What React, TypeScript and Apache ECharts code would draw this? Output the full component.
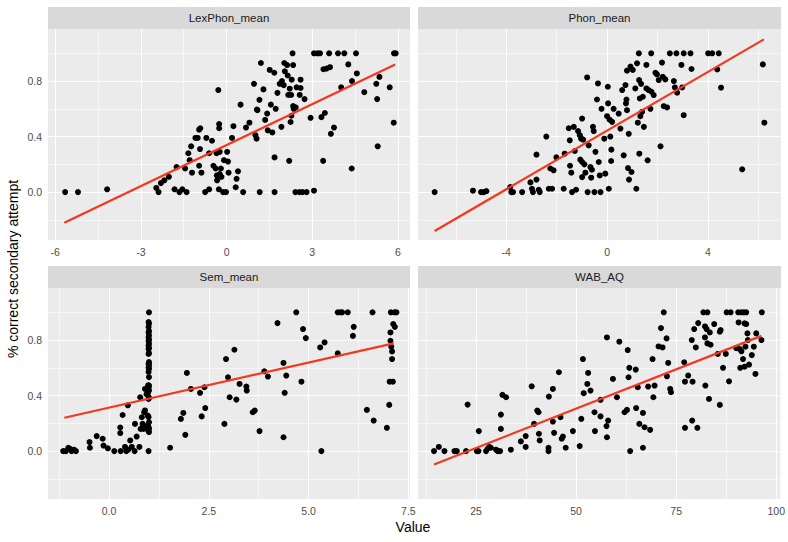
import { useEffect, useRef } from 'react';
import * as echarts from 'echarts';

// facet names, in panel order (top-left, top-right, bottom-left, bottom-right)
const panelNames = ['LexPhon_mean', 'Phon_mean', 'Sem_mean', 'WAB_AQ'];

const lexPhonPoints = [
  [-5.65, 0], [-5.2, 0], [-4.18, 0.02], [-2.46, 0.03], [-2.38, 0], [-2.3, 0.065], [-2.18, 0.085],
  [-2.02, 0.11], [-1.82, 0.02], [-1.75, 0.18], [-1.65, 0], [-1.55, 0.02], [-1.45, 0.17], [-1.4, 0],
  [-1.34, 0.28], [-1.29, 0.23], [-1.24, 0.33], [-1.21, 0.14], [-1.09, 0.39], [-1.01, 0.39],
  [-0.96, 0.45], [-0.92, 0.46], [-0.96, 0.19], [-0.93, 0.31], [-0.88, 0.14], [-0.75, 0],
  [-0.71, 0.39], [-0.61, 0.02], [-0.61, 0.28], [-0.51, 0.37], [-0.46, 0.19], [-0.38, 0.17],
  [-0.35, 0.28], [-0.34, 0.12], [-0.33, 0.085], [-0.29, 0.735], [-0.26, 0.49], [-0.26, 0.46],
  [-0.24, 0.29], [-0.24, 0.13], [-0.27, 0.02], [-0.2, 0.17], [-0.18, 0.11], [-0.12, 0],
  [-0.09, 0.23], [-0.02, 0], [0.02, 0.29], [0.05, 0.22], [0.07, 0.14], [0.19, 0.39], [0.24, 0.475],
  [0.32, 0.035], [0.35, 0.096], [0.4, 0.15], [0.49, 0.63], [0.58, 0], [0.68, 0.465], [0.8, 0.5],
  [0.96, 0.78], [1.01, 0.41], [1.05, 0.385], [1.06, 0.595], [1.08, 0.59], [1.15, 0.665], [1.16, 0],
  [1.2, 0.93], [1.29, 0.74], [1.35, 0.52], [1.42, 0.566], [1.44, 0.445], [1.51, 0.88], [1.55, 0.63],
  [1.6, 0.43], [1.67, 0.86], [1.68, 0.25], [1.68, 0], [1.72, 0.6], [1.78, 0.715], [1.86, 0.78],
  [1.92, 0.47], [1.94, 0.8], [2.0, 0.77], [2.02, 0.93], [2.04, 0.87], [2.12, 0.915], [2.14, 0.84],
  [2.16, 0.7], [2.19, 0.225], [2.21, 0.745], [2.24, 0.505], [2.26, 0.7], [2.27, 0.55], [2.28, 0.81],
  [2.31, 1.0], [2.33, 0.915], [2.33, 0.62], [2.35, 0.6], [2.41, 0], [2.42, 0.61], [2.45, 0.755],
  [2.55, 0], [2.56, 0.7], [2.59, 0.81], [2.59, 0.75], [2.66, 0], [2.73, 0.67], [2.8, 0],
  [2.94, 0.535], [3.06, 0.01], [3.06, 1.0], [3.18, 1.0], [3.27, 1.0], [3.32, 0.54], [3.38, 0.225],
  [3.39, 0.885], [3.44, 0.57], [3.5, 0.89], [3.59, 1.0], [3.62, 0.9], [3.65, 0.42], [3.76, 0.465],
  [3.9, 1.0], [4.01, 0.755], [4.12, 1.0], [4.26, 0.92], [4.38, 0.17], [4.39, 0.8], [4.53, 1.0],
  [4.56, 0.855], [4.82, 0.72], [5.24, 0.78], [5.27, 0.67], [5.29, 0.33], [5.35, 0.83], [5.71, 0.755],
  [5.85, 0.5], [5.86, 1.0], [5.92, 1.0],
];

const phonPoints = [
  [-6.84, 0], [-5.32, 0.01], [-5.0, 0], [-4.89, 0], [-4.79, 0.007], [-3.84, 0.036], [-3.8, 0],
  [-3.73, 0], [-3.37, 0], [-3.04, 0.07], [-2.98, 0.024], [-2.94, 0], [-2.8, 0.09], [-2.8, 0.27],
  [-2.71, 0.017], [-2.67, 0], [-2.41, 0.4], [-2.31, 0.024], [-2.18, 0.024], [-2.25, 0.17],
  [-2.12, 0.157], [-2.01, 0.25], [-1.72, 0.024], [-1.68, 0.277], [-1.52, 0.46], [-1.48, 0.373],
  [-1.47, 0.19], [-1.42, 0.14], [-1.39, 0], [-1.32, 0.47], [-1.28, 0.296], [-1.23, 0.017],
  [-1.15, 0.44], [-1.08, 0.41], [-1.06, 0.234], [-1.03, 0.385], [-0.99, 0.53], [-0.99, 0.217],
  [-0.99, 0.108], [-0.95, 0.378], [-0.9, 0.2], [-0.86, 0.14], [-0.79, 0.826], [-0.77, 0],
  [-0.73, 0.337], [-0.66, 0.18], [-0.63, 0.104], [-0.6, 0.161], [-0.56, 0.47], [-0.53, 0.44],
  [-0.5, 0], [-0.46, 0.29], [-0.4, 0.667], [-0.36, 0.783], [-0.33, 0.217], [-0.29, 0.12],
  [-0.26, 0], [-0.22, 0.6], [-0.11, 0.385], [-0.07, 0.133], [0.0, 0.547], [0.03, 0.759],
  [0.04, 0.639], [0.07, 0.024], [0.1, 0.522], [0.13, 0.4], [0.16, 0.224], [0.17, 0.306],
  [0.2, 0.506], [0.26, 0.6], [0.46, 0.566], [0.53, 0.458], [0.6, 0.735], [0.66, 0.265],
  [0.73, 0.771], [0.75, 0.639], [0.77, 0.667], [0.79, 0.59], [0.79, 0.875], [0.83, 0.173],
  [0.86, 0.42], [0.87, 0.09], [0.93, 0.904], [0.97, 0.145], [1.02, 0.88], [1.12, 0.747],
  [1.16, 0.024], [1.19, 0.928], [1.22, 0.5], [1.26, 1.0], [1.28, 0.277], [1.27, 0.807],
  [1.3, 0.675], [1.32, 0.547], [1.35, 0.78], [1.39, 0.578], [1.42, 0.687], [1.46, 0.47],
  [1.56, 0.916], [1.56, 0.747], [1.61, 0.229], [1.65, 0.735], [1.72, 0.6], [1.75, 1.0],
  [1.76, 0.723], [1.85, 0.699], [1.92, 0.86], [1.98, 0.848], [2.05, 0.807], [2.12, 0.33],
  [2.18, 0.933], [2.21, 0.831], [2.25, 0.619], [2.31, 0.812], [2.38, 0.61], [2.49, 1.0],
  [2.65, 0.8], [2.69, 0.754], [2.75, 1.0], [2.78, 0.716], [2.95, 0.916], [2.98, 0.754],
  [3.04, 1.0], [3.04, 0.554], [3.31, 1.0], [3.35, 0.887], [4.01, 1.0], [4.17, 1.0], [4.37, 0.884],
  [4.43, 1.0], [4.52, 0.752], [5.36, 0.164], [6.18, 0.92], [6.24, 0.5],
];

const semPoints = [
  [-1.15, 0], [-1.08, 0], [-1.02, 0.024], [-0.98, 0.017], [-0.94, 0], [-0.88, 0.01], [-0.83, 0],
  [-0.49, 0.065], [-0.48, 0.024], [-0.31, 0.108], [-0.16, 0.089], [-0.14, 0.04], [-0.03, 0.02],
  [0.13, 0], [0.28, 0.17], [0.28, 0.13], [0.29, 0], [0.34, 0.26], [0.4, 0.03], [0.43, 0],
  [0.47, 0.33], [0.48, 0.01], [0.53, 0.077], [0.57, 0.03], [0.64, 0], [0.65, 0.196], [0.69, 0.105],
  [0.76, 0.03], [0.78, 0.388], [0.79, 0.16], [0.82, 0.244], [0.84, 0.196], [0.86, 0.16],
  [0.88, 0.28], [0.9, 0.448], [0.92, 0.172], [0.94, 0.41], [0.9, 0.293],
  [1.0, 1.0], [0.99, 0.93], [1.0, 0.918], [0.99, 0.894], [1.0, 0.865], [0.99, 0.855], [1.0, 0.834],
  [0.99, 0.82], [1.0, 0.803], [0.99, 0.795], [1.0, 0.774], [0.99, 0.76], [1.0, 0.742],
  [0.99, 0.735], [1.0, 0.706], [0.99, 0.7], [1.0, 0.641], [0.99, 0.628], [1.0, 0.618],
  [0.99, 0.6], [1.0, 0.594], [0.99, 0.57], [1.0, 0.533], [0.98, 0.474], [1.0, 0.472],
  [0.97, 0.457], [0.99, 0.46], [1.0, 0.437], [0.97, 0.414], [1.0, 0.385], [0.99, 0.376],
  [0.97, 0.256], [0.99, 0.245], [1.0, 0.208], [0.97, 0.185], [0.99, 0.172], [1.0, 0.161],
  [0.98, 0.148], [1.0, 0.137], [0.99, 0],
  [1.53, 0.024], [1.8, 0.232], [1.86, 0.275], [1.91, 0.117], [1.95, 0.563], [2.05, 0.448],
  [2.28, 0.42], [2.32, 0.25], [2.39, 0.46], [2.41, 0.31], [2.89, 0.196], [2.93, 0.663],
  [2.98, 0.532], [3.02, 0.388], [3.14, 0.73], [3.19, 0.371], [3.27, 0.484], [3.44, 0.465],
  [3.45, 0.436], [3.6, 0.28], [3.65, 0.292], [3.77, 0.144], [3.89, 0.575], [3.98, 0.537],
  [4.22, 0.922], [4.37, 0.1], [4.37, 0.635], [4.4, 0.42], [4.44, 0.544], [4.69, 1.0], [4.82, 0.5],
  [4.86, 0.879], [4.93, 0.814], [5.29, 0.747], [5.32, 0], [5.4, 0.783], [5.73, 0.704], [5.73, 1.0],
  [5.8, 1.0], [5.84, 1.0], [5.98, 1.0], [6.11, 0.83], [6.13, 0.895], [6.46, 0.297], [6.6, 1.0],
  [6.63, 0.22], [6.96, 0.168], [7.02, 0.333], [7.03, 0.5], [7.05, 0.855], [7.05, 0.795], [7.06, 1.0],
  [7.07, 0.752], [7.09, 0.718], [7.09, 0.663], [7.11, 0.5], [7.12, 0.915], [7.15, 1.0],
  [7.16, 0.895], [7.2, 1.0],
];

const wabPoints = [
  [14.5, 0], [15.7, 0.03], [17.1, 0], [19.6, 0], [20.2, 0], [22.5, 0], [22.9, 0.335], [25.2, 0],
  [25.6, 0], [25.7, 0.144], [27.5, 0], [27.9, 0.017], [28.3, 0.03], [28.7, 0.024], [30.0, 0.01],
  [30.4, 0], [31.0, 0], [31.2, 0.263], [31.2, 0.16], [31.6, 0.405], [32.5, 0.388], [33.7, 0.01],
  [36.2, 0.07], [37.4, 0.108], [37.4, 0.03], [38.9, 0.467], [39.5, 0.196], [40.3, 0.292],
  [40.6, 0.28], [40.7, 0.125], [40.9, 0.077], [43.1, 0.024], [43.1, 0], [43.2, 0.393],
  [44.2, 0.448], [44.2, 0.213], [44.5, 0.132], [45.7, 0.568], [46.1, 0.244], [46.4, 0.089],
  [46.7, 0.105], [47.4, 0.024], [49.2, 0.144], [50.9, 0.036], [51.3, 0.232], [51.7, 0.663],
  [51.9, 0.417], [52.8, 0.484], [53.0, 0.563], [53.6, 0.436], [54.6, 0.28], [54.7, 0.144],
  [56.1, 0.25], [56.1, 0.369], [57.6, 0.18], [57.7, 0.819], [57.7, 0.1], [58.0, 0.22],
  [59.2, 0.52], [60.2, 0.388], [60.8, 0.788], [62.1, 0.28], [62.7, 0.297], [62.9, 0.728],
  [63.1, 0.532], [63.3, 0.6], [63.5, 0], [64.9, 0.587], [65.0, 0.31], [65.4, 0.46], [65.8, 0.196],
  [66.7, 0.275], [66.7, 0.024], [67.1, 0.172], [68.0, 0.465], [68.5, 0.153], [69.1, 0.663],
  [69.3, 0.388], [69.6, 0.472], [70.6, 0.754], [71.2, 0.886], [71.6, 0.747], [71.9, 1.0],
  [72.6, 0.812], [72.7, 0.539], [73.0, 0.635], [73.5, 0.448], [73.7, 0.424], [77.0, 0.64],
  [77.2, 0.5], [77.2, 0.168], [78.0, 0.544], [78.9, 0.8], [79.0, 0.22], [79.1, 0.5], [79.5, 0.879],
  [79.9, 0.747], [80.3, 0.168], [80.5, 0.922], [81.8, 1.0], [82.2, 0.819], [82.2, 0.898],
  [82.3, 0.472], [82.6, 0.879], [82.8, 1.0], [82.8, 0.776], [83.2, 0.376], [83.4, 0.855],
  [83.6, 0.766], [84.5, 0.915], [85.4, 0.7], [85.9, 0.86], [85.9, 0.333], [86.1, 0.872],
  [86.7, 0.6], [87.4, 0.7], [87.6, 1.0], [88.2, 0.503], [88.6, 1.0], [90.0, 0.742], [90.5, 1.0],
  [90.6, 0.927], [90.9, 0.735], [91.0, 0.6], [91.3, 1.0], [91.3, 0.719], [91.7, 0.663], [91.9, 1.0],
  [92.1, 0.92], [92.1, 0.608], [92.5, 1.0], [92.5, 0.915], [92.3, 0.752], [92.8, 0.848], [92.9, 0.8],
  [93.2, 0.623], [93.9, 0.692], [94.4, 0.752], [94.8, 0.556], [95.0, 0.848], [96.4, 1.0], [96.3, 0.8],
];

// fitted lines (end points)
const lexPhonFit = [[-5.68, -0.22], [5.9, 0.92]];
const phonFit = [[-6.84, -0.28], [6.22, 1.1]];
const semFit = [[-1.12, 0.24], [7.13, 0.776]];
const wabFit = [[14.5, -0.096], [96.3, 0.83]];

// axis ranges and breaks
const yRange = [-0.345, 1.175];
const yBreaks = [0, 0.4, 0.8];
const yMinor = [-0.2, 0.2, 0.6, 1.0];
const xRanges = [[-6.25, 6.42], [-7.5, 6.9], [-1.53, 7.54], [10.5, 101]];
const xBreaks = [[-6, -3, 0, 3, 6], [-4, 0, 4], [0, 2.5, 5, 7.5], [25, 50, 75, 100]];
const xMinor = [[-4.5, -1.5, 1.5, 4.5], [-6, -2, 2, 6], [-1.25, 1.25, 3.75, 6.25], [12.5, 37.5, 62.5, 87.5]];

const FONT = '"Liberation Sans", Arial, Helvetica, sans-serif';

export default function App() {
  const chartRef = useRef<HTMLDivElement>(null);

  useEffect(() => {
    document.body.style.margin = '0';
    if (!chartRef.current) return;
    const chart = echarts.init(chartRef.current, null, { renderer: 'svg' });

    const points = [lexPhonPoints, phonPoints, semPoints, wabPoints];
    const fits = [lexPhonFit, phonFit, semFit, wabFit];
    const boxes = [
      { left: 48, top: 29, width: 362, height: 211 },
      { left: 418, top: 29, width: 363, height: 211 },
      { left: 48, top: 288, width: 362, height: 211 },
      { left: 418, top: 288, width: 363, height: 211 },
    ];

    const gridLine = (axis: string, v: number, major: boolean) => ({
      [axis]: v,
      lineStyle: { color: '#ffffff', width: major ? 1.1 : 0.55, type: 'solid' },
    });

    const series: any[] = [];
    points.forEach((pts, i) => {
      // white panel grid, drawn under the points
      series.push({
        type: 'scatter',
        xAxisIndex: i,
        yAxisIndex: i,
        data: [],
        silent: true,
        z: 1,
        markLine: {
          silent: true,
          z: 1,
          symbol: ['none', 'none'],
          label: { show: false },
          emphasis: { disabled: true },
          data: [
            ...xMinor[i].map((v) => gridLine('xAxis', v, false)),
            ...yMinor.map((v) => gridLine('yAxis', v, false)),
            ...xBreaks[i].map((v) => gridLine('xAxis', v, true)),
            ...yBreaks.map((v) => gridLine('yAxis', v, true)),
          ],
        },
      });
      series.push({
        type: 'scatter',
        xAxisIndex: i,
        yAxisIndex: i,
        data: pts,
        symbolSize: 6,
        itemStyle: { color: '#000000', opacity: 1 },
        z: 3,
      });
      series.push({
        type: 'line',
        xAxisIndex: i,
        yAxisIndex: i,
        data: fits[i],
        showSymbol: false,
        symbol: 'none',
        lineStyle: { color: '#F5371E', width: 2.2 },
        z: 4,
      });
    });

    const strips: any[] = [];
    boxes.forEach((b, i) => {
      strips.push({
        type: 'rect',
        shape: { x: b.left, y: b.top - 22, width: b.width, height: 22 },
        style: { fill: '#D9D9D9' },
        silent: true,
      });
      strips.push({
        type: 'text',
        x: b.left + b.width / 2,
        y: b.top - 11,
        style: {
          text: panelNames[i],
          fill: '#1A1A1A',
          font: `11.5px ${FONT}`,
          align: 'center',
          verticalAlign: 'middle',
        },
        silent: true,
      });
    });

    chart.setOption({
      animation: false,
      backgroundColor: '#ffffff',
      grid: boxes.map((b) => ({
        ...b,
        show: true,
        backgroundColor: '#EBEBEB',
        borderWidth: 0,
      })),
      xAxis: boxes.map((_, i) => ({
        type: 'value',
        gridIndex: i,
        min: xRanges[i][0],
        max: xRanges[i][1],
        splitLine: { show: false },
        axisLine: { show: false },
        axisTick: {
          show: true,
          length: 3,
          lineStyle: { color: '#333333', width: 1 },
          customValues: xBreaks[i],
        },
        axisLabel: {
          customValues: xBreaks[i],
          color: '#4D4D4D',
          fontSize: 10.5,
          fontFamily: FONT,
          margin: 6,
          formatter: (v: number) => (i === 2 ? v.toFixed(1) : String(v)),
        },
      })),
      yAxis: boxes.map((_, i) => ({
        type: 'value',
        gridIndex: i,
        min: yRange[0],
        max: yRange[1],
        splitLine: { show: false },
        axisLine: { show: false },
        axisTick: {
          show: i % 2 === 0,
          length: 3,
          lineStyle: { color: '#333333', width: 1 },
          customValues: yBreaks,
        },
        axisLabel: {
          show: i % 2 === 0,
          customValues: yBreaks,
          color: '#4D4D4D',
          fontSize: 10.5,
          fontFamily: FONT,
          margin: 6,
          formatter: (v: number) => v.toFixed(1),
        },
      })),
      series,
      graphic: [
        ...strips,
        {
          type: 'text',
          x: 413,
          y: 527,
          style: {
            text: 'Value',
            fill: '#000000',
            font: `14px ${FONT}`,
            align: 'center',
            verticalAlign: 'middle',
          },
          silent: true,
        },
        {
          type: 'text',
          x: 13,
          y: 269,
          rotation: Math.PI / 2,
          style: {
            text: '% correct secondary attempt',
            fill: '#000000',
            font: `14px ${FONT}`,
            align: 'center',
            verticalAlign: 'middle',
          },
          silent: true,
        },
      ],
    });

    return () => {
      chart.dispose();
    };
  }, []);

  return <div ref={chartRef} style={{ width: 788, height: 542 }}></div>;
}
